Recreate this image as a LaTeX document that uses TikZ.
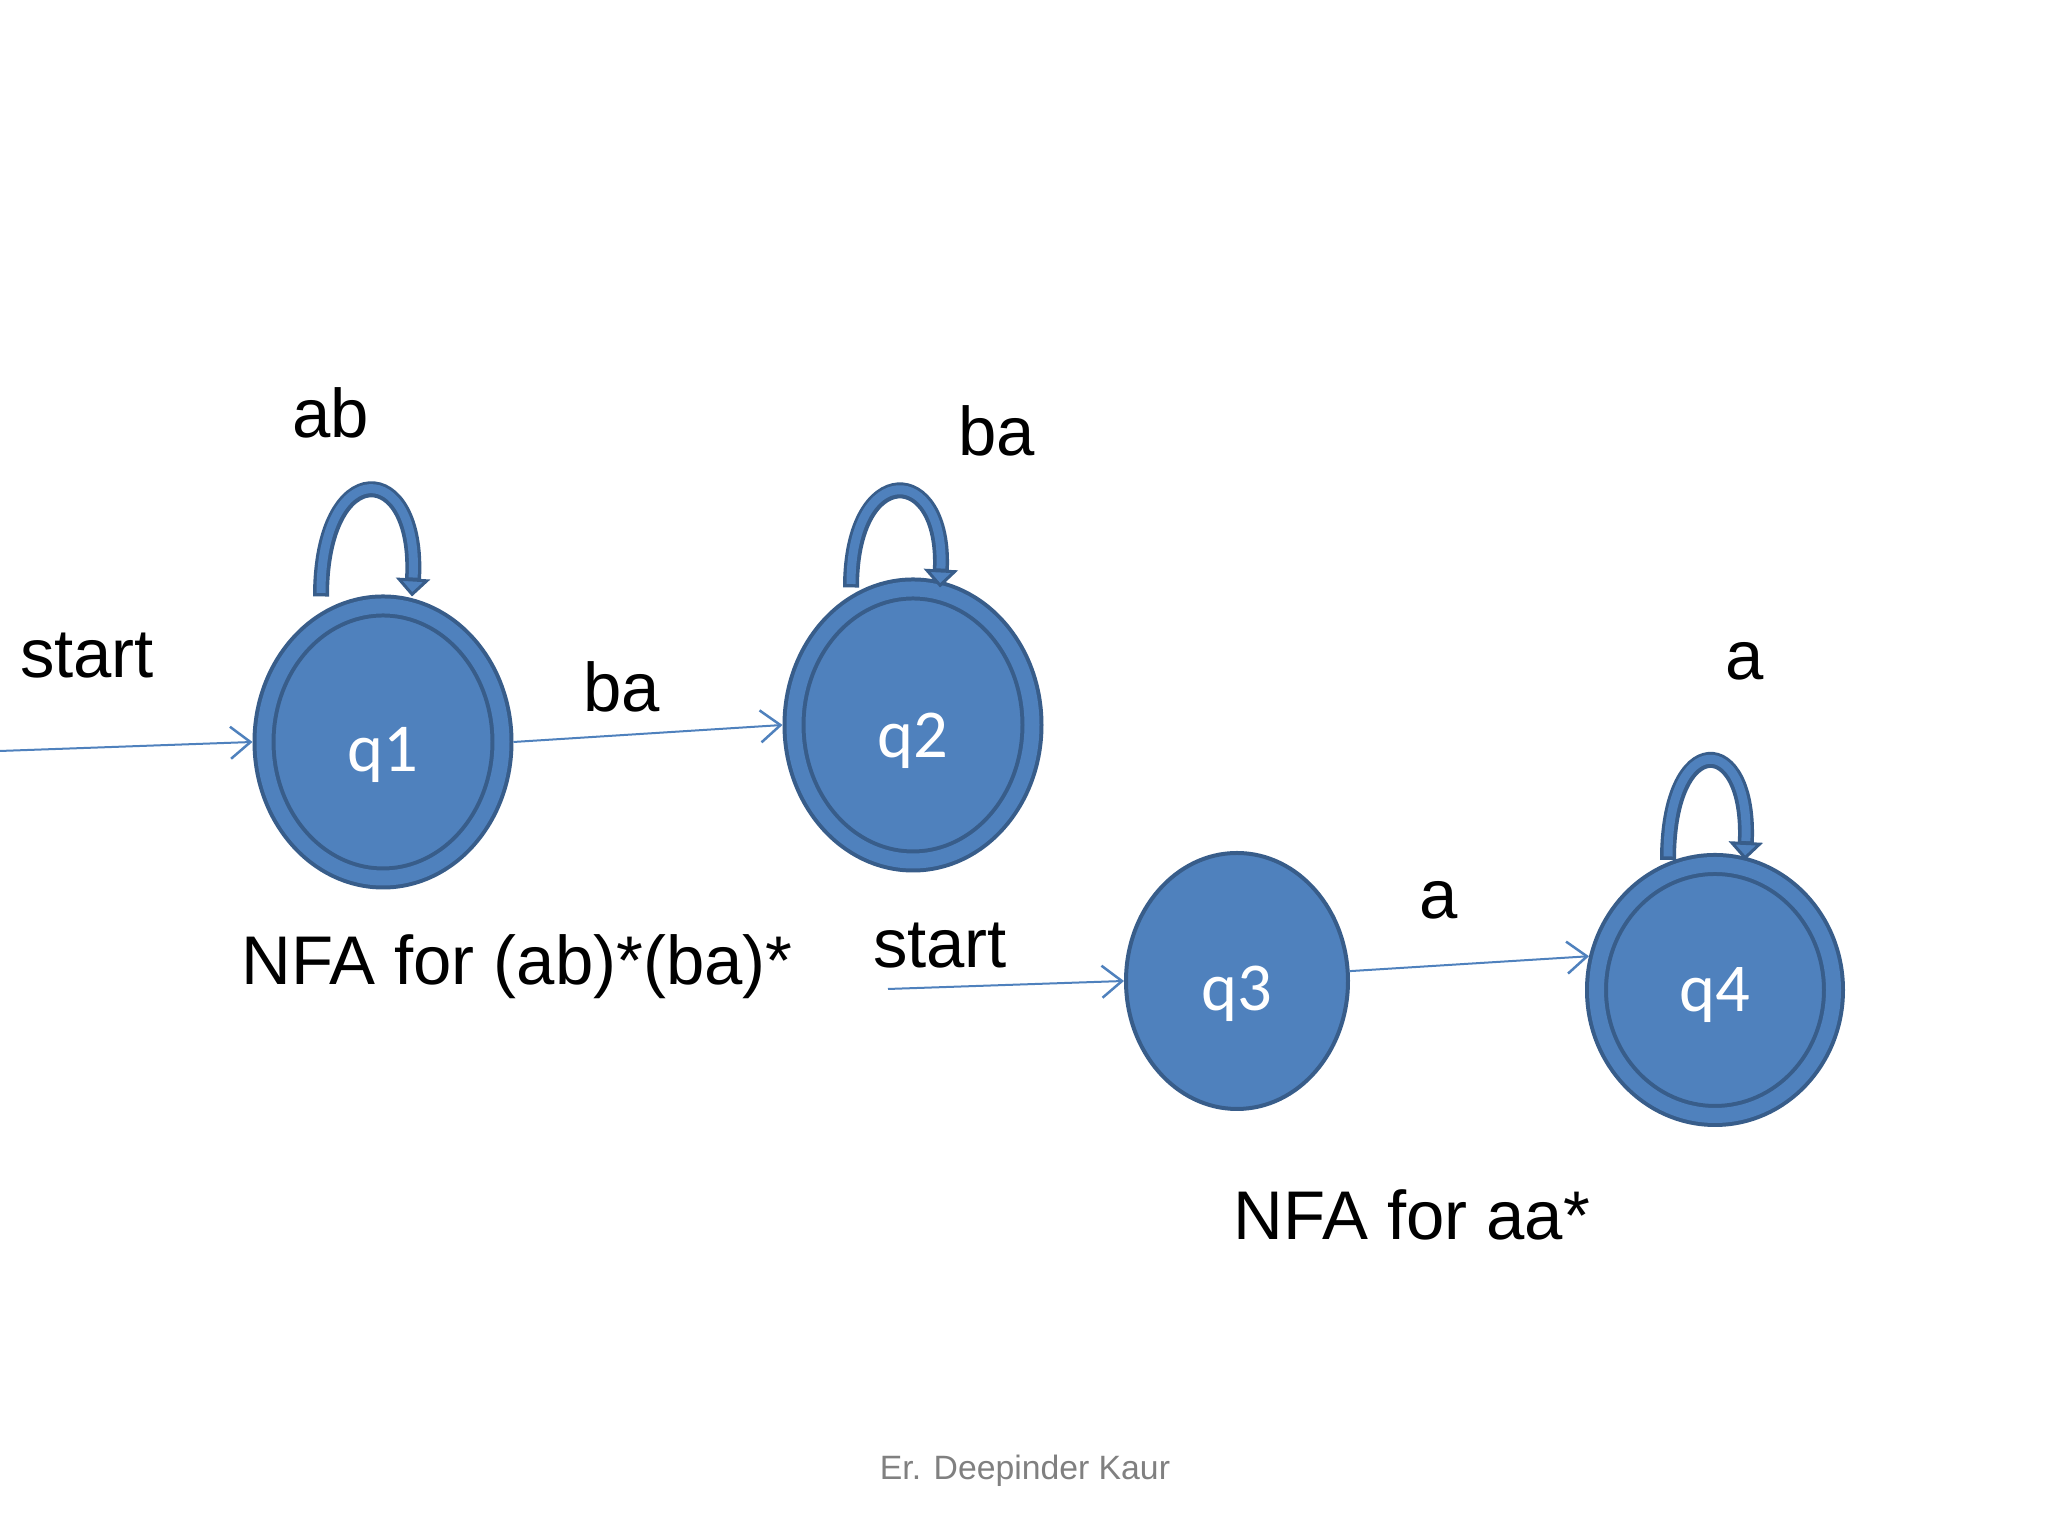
\documentclass[tikz,border=0pt]{standalone}
\usepackage{fontspec}
\setmainfont{Liberation Sans}
\newfontfamily\carlitofont{Carlito}
\usetikzlibrary{shapes.geometric, arrows.meta, calc}
\definecolor{biruIsi}{RGB}{79,129,189}
\definecolor{biruGaris}{RGB}{56,93,138}
\definecolor{abuTeks}{RGB}{128,128,128}

\begin{document}
\begin{tikzpicture}[
  keadaan/.style={ellipse, draw=biruGaris, fill=biruIsi, line width=0.04cm,
    inner sep=0pt, text=white, text height=21pt, text depth=4pt,
    font=\carlitofont\fontsize{19.5pt}{23pt}\selectfont},
  keadaanAkhir/.style={keadaan, double=biruIsi, double distance=0.15cm, outer sep=0.115cm},
  teks/.style={inner sep=0pt, font=\fontsize{19.6pt}{23pt}\selectfont},
  panah/.style={-{Straight Barb[length=0.2cm, width=0.32cm, line width=0.025cm]},
    draw=biruIsi, line width=0.02cm},
  putaran/.style={draw=biruIsi, line width=0.09cm, shorten <=0.035cm, shorten >=0.19cm,
    preaction={draw=biruGaris, line width=0.16cm, shorten <=0pt, shorten >=0pt,
      -{Triangle[width=0.34cm, length=0.18cm, line width=0.03cm, fill=biruIsi]}}}
]
  \path[fill=white, use as bounding box] (0,0) rectangle (20.48,15.36);

  % keadaan
  \node[keadaanAkhir, minimum width=2.38cm, minimum height=2.72cm] (q1) at (3.83,7.94) {q1};
  \node[keadaanAkhir, minimum width=2.38cm, minimum height=2.72cm, text height=22.3pt] (q2) at (9.13,8.11) {q2};
  \node[keadaan, minimum width=2.22cm, minimum height=2.56cm] (q3) at (12.37,5.55) {q3};
  \node[keadaanAkhir, minimum width=2.37cm, minimum height=2.51cm, text height=16.4pt] (q4) at (17.15,5.46) {q4};

  \coordinate (mulai1) at (0,7.85);
  \coordinate (mulai2) at (8.88,5.47);

  % transisi
  \draw[panah] (mulai1) -- (q1.west);
  \draw[panah] (q1.east) -- (q2.west);
  \draw[panah] (mulai2) -- (q3.west);
  \draw[panah] (q3.5) -- (q4.165);

  \draw[putaran] ($(q1.north)+(-0.62,-0.02)$) .. controls +(0,1.42) and +(0.08,1.38) .. ($(q1.north)+(0.29,-0.02)$);
  \draw[putaran] ($(q2.north)+(-0.62,-0.10)$) .. controls +(0,1.28) and +(0.06,1.25) .. ($(q2.north)+(0.27,-0.10)$);
  \draw[putaran] ($(q4.north)+(-0.47,-0.07)$) .. controls +(0,1.32) and +(0.06,1.29) .. ($(q4.north)+(0.30,-0.07)$);

  % tulisan
  \node[teks] (tStart1) at (0.87,8.80) {start};
  \node[teks] (tAb) at (3.31,11.23) {ab};
  \node[teks] (tBaLoop) at (9.97,11.05) {ba};
  \node[teks] (tBa) at (6.22,8.49) {ba};
  \node[teks] (tALoop) at (17.45,8.75) {a};
  \node[teks] (judul1) at (5.17,5.69) {NFA for (ab)*(ba)*};
  \node[teks] (tStart2) at (9.40,5.90) {start};
  \node[teks] (tA) at (14.39,6.36) {a};
  \node[teks] (judul2) at (14.12,3.21) {NFA for aa*};
  \node[inner sep=0pt, text=abuTeks, font=\fontsize{9.6pt}{11pt}\selectfont] (penulis) at (10.25,0.655) {Er. Deepinder Kaur};
\end{tikzpicture}
\end{document}
